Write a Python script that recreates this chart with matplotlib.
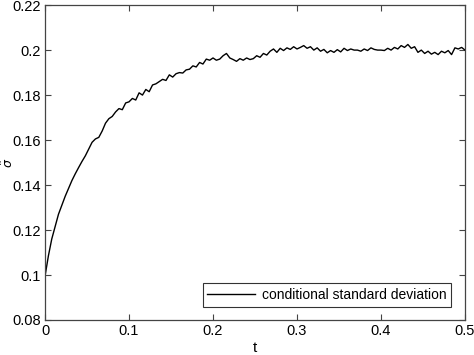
import numpy as np
import matplotlib
matplotlib.use("Agg")
import matplotlib.pyplot as plt

# ---- data ----
sigma_hat = [
    0.0995, 0.1085, 0.1160, 0.1215, 0.1270, 0.1310, 0.1350, 0.1385, 0.1420, 0.1450,
    0.1478, 0.1505, 0.1530, 0.1560, 0.1590, 0.1605, 0.1612, 0.1640, 0.1675, 0.1695,
    0.1705, 0.1725, 0.1740, 0.1735, 0.1765, 0.1770, 0.1785, 0.1778, 0.1810, 0.1800,
    0.1825, 0.1815, 0.1845, 0.1850, 0.1860, 0.1870, 0.1865, 0.1890, 0.1880, 0.1895,
    0.1900, 0.1898, 0.1912, 0.1915, 0.1930, 0.1925, 0.1945, 0.1938, 0.1960, 0.1955,
    0.1965, 0.1955, 0.1960, 0.1975, 0.1985, 0.1965, 0.1958, 0.1950, 0.1962, 0.1955,
    0.1965, 0.1958, 0.1962, 0.1975, 0.1968, 0.1985, 0.1978, 0.1995, 0.2005, 0.1990,
    0.2008, 0.1998, 0.2010, 0.2003, 0.2015, 0.2005, 0.2012, 0.2020, 0.2008, 0.2015,
    0.2000, 0.2010, 0.1995, 0.2003, 0.1988, 0.1998, 0.1990, 0.2002, 0.1992, 0.2008,
    0.1998, 0.2005, 0.2000, 0.2000, 0.1995, 0.2005, 0.1998, 0.2010, 0.2003, 0.2000,
    0.2000, 0.1998, 0.2008, 0.2000, 0.2012, 0.2005, 0.2020, 0.2012, 0.2025, 0.2008,
    0.2015, 0.1990, 0.2000, 0.1985, 0.1995, 0.1982, 0.1990, 0.1980, 0.1995, 0.1988,
    0.1998, 0.1980, 0.2010, 0.2005, 0.2012, 0.2000,
]
t = np.linspace(0, 0.5, len(sigma_hat))

x_ticks = [0, 0.1, 0.2, 0.3, 0.4, 0.5]
x_labels = ["0", "0.1", "0.2", "0.3", "0.4", "0.5"]
y_ticks = [0.08, 0.1, 0.12, 0.14, 0.16, 0.18, 0.2, 0.22]
y_labels = ["0.08", "0.1", "0.12", "0.14", "0.16", "0.18", "0.2", "0.22"]
legend_label = "conditional standard deviation"

plt.rcParams['font.family'] = ['Liberation Sans', 'DejaVu Sans']
plt.rcParams['mathtext.fontset'] = 'dejavusans'

fig = plt.figure(figsize=(4.74, 3.55), dpi=100)
ax = fig.add_axes([0.095, 0.0986, 0.886, 0.887])

ax.plot(t, sigma_hat, color='black', linewidth=1.0, label=legend_label)

ax.set_xlim(0, 0.5)
ax.set_ylim(0.08, 0.22)
ax.set_xticks(x_ticks)
ax.set_xticklabels(x_labels)
ax.set_yticks(y_ticks)
ax.set_yticklabels(y_labels)

axis_col = '#444444'
for s in ax.spines.values():
    s.set_color(axis_col)
    s.set_linewidth(0.9)
ax.tick_params(direction='in', length=4, width=0.8, color=axis_col,
               top=True, right=True, labelsize=10.5, pad=3)

ax.set_xlabel("t", fontsize=11, labelpad=2)
ax.set_ylabel(r"$\hat{\sigma}$", fontsize=9)
ax.yaxis.set_label_coords(-0.068, 0.5)

leg = ax.legend(loc='lower right', fontsize=10, frameon=True, fancybox=False,
                edgecolor='black', handlelength=3.4, borderpad=0.35,
                borderaxespad=0, handletextpad=0.5,
                bbox_to_anchor=(0.967, 0.041))
leg.get_frame().set_linewidth(0.8)

fig.savefig("out.png", dpi=100)
